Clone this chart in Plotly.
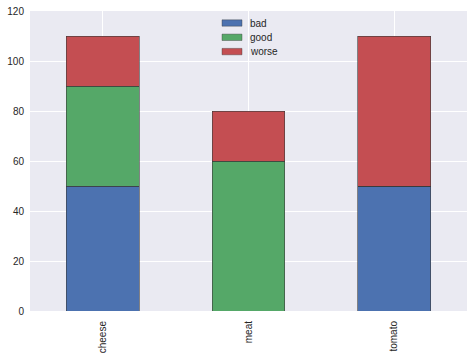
import plotly.graph_objects as go

categories = ["cheese", "meat", "tomato"]
bad = [50, 0, 50]
good = [40, 60, 0]
worse = [20, 20, 60]
y_ticks = [0, 20, 40, 60, 80, 100, 120]

series = [("bad", bad, "#4C72B0"), ("good", good, "#55A868"), ("worse", worse, "#C44E52")]

fig = go.Figure()
for name, vals, color in series:
    fig.add_trace(go.Bar(
        x=categories, y=vals, name=name,
        marker=dict(color=color, line=dict(color="#3a3a3a", width=0.6)),
        width=0.5, showlegend=False,
    ))

# custom legend (wide patches like matplotlib)
W, H = 474, 356
L, R, T, B = 30, 7, 11, 45
pw, ph = W - L - R, H - T - B
def px_x(x): return (x - L) / pw
def px_y(y): return 1 - (y - T) / ph
for i, (name, vals, color) in enumerate(series):
    yc = 23 + i * 14.3
    fig.add_shape(type="rect", xref="paper", yref="paper",
                  x0=px_x(222), x1=px_x(242), y0=px_y(yc + 3.2), y1=px_y(yc - 3.2),
                  fillcolor=color, line=dict(color="#3a3a3a", width=0.4))
    fig.add_annotation(xref="paper", yref="paper", x=px_x(248), y=px_y(yc),
                       xanchor="left", yanchor="middle", text=name, showarrow=False,
                       font=dict(size=10, color="#262626"))

fig.update_layout(
    barmode="stack",
    width=W, height=H,
    margin=dict(l=L, r=R, t=T, b=B),
    paper_bgcolor="white",
    plot_bgcolor="#EAEAF2",
    font=dict(family="Liberation Sans, Arial, sans-serif", size=10, color="#262626"),
    showlegend=False,
    hovermode=False,
)
fig.update_xaxes(tickangle=-90, showgrid=True, gridcolor="white", gridwidth=1,
                 range=[-0.5, 2.5], ticks="outside", ticklen=5, tickcolor="rgba(0,0,0,0)",
                 showline=False, zeroline=False, automargin=False)
fig.update_yaxes(range=[0, 120], tickvals=y_ticks, showgrid=True, gridcolor="white",
                 gridwidth=1, ticks="outside", ticklen=3, tickcolor="rgba(0,0,0,0)",
                 zeroline=False, showline=False, automargin=False)

fig.write_html("out.html", config={"displayModeBar": False},
               post_script="document.body.style.margin='0';")
